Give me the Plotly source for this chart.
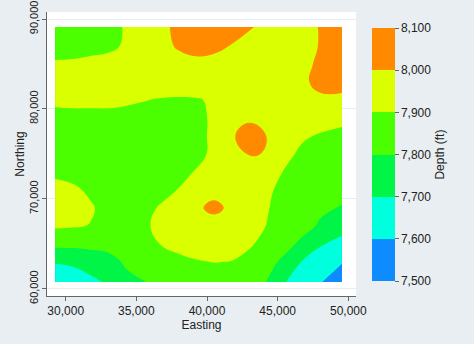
import plotly.graph_objects as go

# Grid of depth values (ft)
easting = [29250, 30500, 31750, 33000, 34250, 35500, 36750, 38000, 39250,
           40500, 41750, 43000, 44250, 45500, 46750, 48000, 49550]
northing = [89100, 87000, 85000, 83000, 81000, 79000, 77000, 75000,
            73000, 71000, 69000, 67000, 65000, 63000, 60750]  # top to bottom

depth_rows = [
    [7850, 7855, 7865, 7880, 7905, 7930, 7980, 8020, 8050, 8050, 8040, 8010, 7970, 7950, 7965, 8005, 8060],
    [7855, 7860, 7870, 7885, 7908, 7940, 7975, 8010, 8040, 8030, 7995, 7960, 7945, 7945, 7965, 8005, 8070],
    [7913, 7915, 7924, 7925, 7935, 7945, 7950, 7970, 7970, 7960, 7950, 7940, 7935, 7945, 7970, 8020, 8070],
    [7935, 7940, 7945, 7950, 7950, 7950, 7950, 7955, 7955, 7955, 7955, 7955, 7960, 7965, 7990, 8015, 8030],
    [7916, 7915, 7915, 7915, 7910, 7903, 7894, 7889, 7893, 7912, 7945, 7955, 7960, 7960, 7965, 7990, 7981],
    [7875, 7883, 7883, 7883, 7880, 7875, 7870, 7865, 7875, 7916, 7950, 7985, 7985, 7960, 7945, 7935, 7925],
    [7855, 7850, 7845, 7845, 7845, 7845, 7850, 7855, 7878, 7915, 7990, 8040, 7998, 7950, 7910, 7893, 7875],
    [7850, 7845, 7840, 7840, 7840, 7840, 7845, 7855, 7880, 7915, 7970, 8005, 7997, 7920, 7885, 7860, 7850],
    [7880, 7870, 7860, 7855, 7845, 7850, 7865, 7880, 7905, 7930, 7945, 7950, 7935, 7895, 7870, 7850, 7845],
    [7930, 7915, 7885, 7850, 7840, 7850, 7870, 7903, 7930, 7960, 7950, 7940, 7912, 7880, 7855, 7835, 7825],
    [7945, 7935, 7910, 7870, 7840, 7870, 7910, 7935, 7980, 8030, 7975, 7950, 7905, 7870, 7845, 7815, 7795],
    [7912, 7908, 7897, 7860, 7835, 7880, 7930, 7945, 7955, 7950, 7945, 7925, 7898, 7860, 7830, 7790, 7735],
    [7827, 7825, 7830, 7840, 7850, 7870, 7903, 7925, 7935, 7935, 7930, 7912, 7870, 7830, 7780, 7710, 7672],
    [7705, 7720, 7740, 7760, 7815, 7830, 7860, 7880, 7895, 7902, 7898, 7870, 7830, 7780, 7695, 7655, 7605],
    [7655, 7640, 7680, 7710, 7770, 7795, 7830, 7845, 7855, 7860, 7850, 7830, 7798, 7705, 7650, 7605, 7555],
]

levels = [7500, 7600, 7700, 7800, 7900, 8000, 8100]
band_colors = ["#0E8CFF", "#00FFDC", "#00F547", "#4CFF00", "#DAFF00", "#FF8A00"]
x_ticks = [30000, 35000, 40000, 45000, 50000]
y_ticks = [60000, 70000, 80000, 90000]

# step colorscale for the contour fills (robust to how fill colours are sampled)
n = len(levels)
bounds = [0.0] + [(k + 1.5) / n for k in range(len(band_colors) - 1)] + [1.0]
fill_scale = []
for k, c in enumerate(band_colors):
    fill_scale.append([bounds[k], c])
    fill_scale.append([bounds[k + 1], c])

# exact step colorscale for the colour key (levels[0]..levels[-1])
nb = len(band_colors)
key_scale = []
for k, c in enumerate(band_colors):
    key_scale.append([k / nb, c])
    key_scale.append([(k + 1) / nb, c])

y_asc = northing[::-1]
z_asc = depth_rows[::-1]

font = dict(family="Arial, 'Liberation Sans', sans-serif", size=12, color="#222222")
axcol = "#666666"

fig = go.Figure()
fig.add_trace(go.Contour(
    x=easting, y=y_asc, z=z_asc,
    contours=dict(start=levels[0], end=levels[-1], size=100, coloring="fill", showlines=False),
    line=dict(width=0, smoothing=1.3),
    colorscale=fill_scale, showscale=False,
    hoverinfo="skip",
))
# colour key
fig.add_trace(go.Scatter(
    x=[None], y=[None], mode="markers", showlegend=False, hoverinfo="skip",
    marker=dict(
        color=[levels[0]], cmin=levels[0], cmax=levels[-1], colorscale=key_scale, showscale=True,
        colorbar=dict(
            tickvals=levels, tickformat=",", ticks="outside", ticklen=4, tickcolor=axcol,
            tickfont=font, outlinewidth=0, thickness=23, thicknessmode="pixels",
            len=253, lenmode="pixels", x=1.0518, xanchor="left", y=0.498, yanchor="middle",
            xpad=0, ypad=0,
            title=dict(text="Depth (ft)", side="right", font=font),
        ),
    ),
))

fig.update_layout(
    width=474, height=344,
    margin=dict(l=47, r=118, t=12, b=48, autoexpand=False),
    paper_bgcolor="#E8EEF1", plot_bgcolor="white",
    font=font,
    xaxis=dict(range=[28677, 50545], tickvals=x_ticks, tickformat=",", showline=True,
               linecolor=axcol, ticks="outside", ticklen=4, tickcolor=axcol,
               showgrid=False, zeroline=False, automargin=False,
               title=dict(text="Easting", font=font, standoff=0)),
    yaxis=dict(range=[59198, 90778], tickvals=y_ticks, tickformat=",", tickangle=-90,
               tickfont=dict(family=font["family"], size=11, color=font["color"]),
               ticklabeloverflow="allow", automargin=False,
               showline=True, linecolor=axcol, ticks="outside", ticklen=4, tickcolor=axcol,
               showgrid=True, gridcolor="#E6EDF0", zeroline=False,
               title=dict(text="Northing", font=font, standoff=0)),
)

fig.write_html("out.html")
